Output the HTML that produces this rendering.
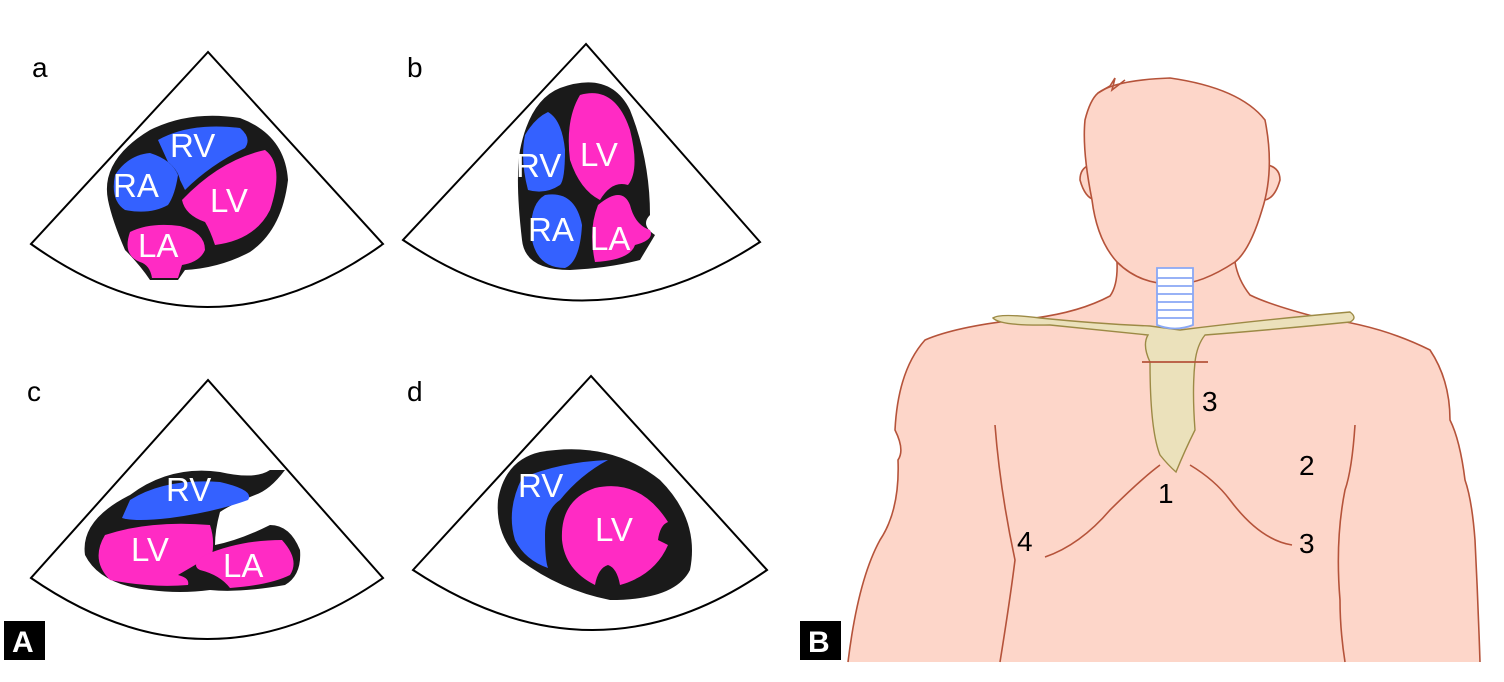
<!DOCTYPE html>
<html><head><meta charset="utf-8"><style>
html,body{margin:0;padding:0;background:#fff;}
svg{display:block;}
text{font-family:"Liberation Sans",Arial,sans-serif;}
</style></head><body>
<svg width="1504" height="682" viewBox="0 0 1504 682" xmlns="http://www.w3.org/2000/svg">
<rect width="1504" height="682" fill="#fff"/>
<g fill="none" stroke="#000" stroke-width="2">
<path d="M208,52 L31,244 Q208,370 383,244 Z"/>
<path d="M586,44 L403,240 Q580,360 760,242 Z"/>
<path d="M208,380 L31,578 Q208,700 383,578 Z"/>
<path d="M591,376 L413,570 Q595,690 767,570 Z"/>
</g>
<g font-size="28" fill="#000">
<text x="32" y="77">a</text><text x="407" y="77">b</text>
<text x="27" y="401">c</text><text x="407" y="401">d</text>
</g>
<!-- heart a -->
<path d="M150,130 Q190,110 240,118 Q285,135 288,180 Q282,230 250,252 Q220,268 185,270 L178,280 L150,280 Q140,265 125,250 Q112,220 108,200 Q100,160 150,130 Z" fill="#1a1a1a"/>
<path d="M158,140 Q190,122 240,128 Q252,138 245,148 Q210,165 185,190 L180,180 Q178,170 168,162 Z" fill="#3461ff"/>
<path d="M115,175 Q128,155 150,153 Q172,160 178,175 Q175,195 168,205 Q150,215 125,210 Q110,200 115,175 Z" fill="#3461ff"/>
<path d="M182,200 Q220,160 265,150 Q285,165 270,210 Q255,240 215,245 Q210,230 205,222 Q185,215 182,200 Z" fill="#ff2bc4"/>
<path d="M130,232 Q150,222 180,226 Q205,232 205,250 Q200,262 182,265 L178,278 L152,278 Q150,265 140,262 Q122,255 130,232 Z" fill="#ff2bc4"/>
<!-- heart b -->
<path d="M560,88 Q610,70 630,110 Q650,160 650,215 Q640,225 655,235 L640,260 Q610,268 570,270 Q525,270 522,240 Q515,180 520,150 Q530,100 560,88 Z" fill="#1a1a1a"/>
<path d="M548,112 Q562,120 565,150 Q565,180 560,185 Q545,195 528,190 Q520,160 525,135 Q535,118 548,112 Z" fill="#3461ff"/>
<path d="M580,95 Q615,85 630,130 Q640,170 628,185 Q612,180 600,200 Q580,190 570,160 Q565,120 580,95 Z" fill="#ff2bc4"/>
<path d="M545,195 Q575,190 582,225 Q580,262 565,268 Q538,268 532,240 Q528,205 545,195 Z" fill="#3461ff"/>
<path d="M598,205 Q622,185 630,205 Q635,225 650,230 Q655,240 635,245 Q630,260 595,262 Q588,230 598,205 Z" fill="#ff2bc4"/>
<!-- heart c -->
<path d="M130,495 Q170,465 220,472 Q255,480 270,470 L285,470 Q270,490 255,495 Q230,505 220,512 Q215,530 215,545 Q240,540 270,525 Q290,525 300,550 Q302,575 285,585 Q240,593 210,590 Q180,594 150,590 Q100,585 85,555 Q80,520 130,495 Z" fill="#1a1a1a"/>
<path d="M130,500 Q165,478 220,482 Q255,490 248,500 Q215,512 170,518 Q135,522 122,518 Z" fill="#3461ff"/>
<path d="M105,535 Q150,520 210,525 Q215,540 212,555 Q190,568 178,575 Q190,578 188,585 Q150,588 110,580 Q90,560 105,535 Z" fill="#ff2bc4"/>
<path d="M205,555 Q240,540 282,540 Q300,560 290,575 Q270,585 230,588 Q220,575 200,570 Q190,565 205,555 Z" fill="#ff2bc4"/>
<!-- heart d -->
<path d="M540,452 Q610,440 660,480 Q700,520 690,570 Q675,600 610,600 Q560,590 520,560 Q495,535 498,500 Q505,460 540,452 Z" fill="#1a1a1a"/>
<path d="M522,478 Q560,462 608,460 Q580,475 560,500 Q545,510 545,535 Q545,560 548,568 Q525,560 515,540 Q506,510 522,478 Z" fill="#3461ff"/>
<path d="M595,488 Q640,478 668,522 Q660,525 658,540 Q668,545 668,545 Q655,575 620,585 Q617,568 608,565 Q598,568 595,585 Q565,570 562,540 Q560,500 595,488 Z" fill="#ff2bc4"/>
<g font-size="33" fill="#fff">
<text x="170" y="157">RV</text><text x="113" y="197">RA</text><text x="210" y="212">LV</text><text x="138" y="257">LA</text>
<text x="516" y="177">RV</text><text x="580" y="166">LV</text><text x="528" y="241">RA</text><text x="590" y="250">LA</text>
<text x="166" y="501">RV</text><text x="131" y="561">LV</text><text x="223" y="577">LA</text>
<text x="518" y="497">RV</text><text x="595" y="541">LV</text>
</g>
<rect x="4" y="621" width="41" height="39" fill="#000"/>
<text x="12" y="652" font-size="30" font-weight="bold" fill="#fff">A</text>
<rect x="800" y="621" width="41" height="39" fill="#000"/>
<text x="808" y="652" font-size="30" font-weight="bold" fill="#fff">B</text>
<!-- body -->
<path d="M1117,262 Q1118,285 1110,296 Q1080,312 1035,318 Q960,325 925,340 Q898,370 895,430 Q905,450 898,460 Q900,510 880,540 Q858,580 848,662 L1480,662 Q1478,600 1475,540 Q1472,500 1465,480 Q1460,440 1450,420 Q1450,380 1430,350 Q1380,325 1320,318 Q1270,305 1250,295 Q1238,280 1235,262 Z" fill="#fdd6c9"/>
<path d="M848,662 Q858,580 880,540 Q900,510 898,460 Q905,450 895,430 Q898,370 925,340 Q960,325 1035,318 Q1080,312 1110,296 Q1118,285 1117,262 M1235,262 Q1238,280 1250,295 Q1270,305 1320,318 Q1380,325 1430,350 Q1450,380 1450,420 Q1460,440 1465,480 Q1472,500 1475,540 Q1478,600 1480,662" fill="none" stroke="#b5533a" stroke-width="1.6"/>
<g fill="#fdd6c9" stroke="#b5533a" stroke-width="1.6">
<path d="M1090,165 Q1080,168 1080,180 Q1085,198 1095,200 Z M1268,165 Q1280,168 1280,180 Q1275,198 1265,200 Z"/>
<path d="M1098,93 Q1115,80 1170,78 Q1240,88 1265,120 Q1275,170 1262,210 Q1250,250 1235,262 Q1200,285 1175,284 Q1140,285 1117,262 Q1097,240 1092,200 Q1082,150 1085,120 Q1090,100 1098,93 Z"/>
</g>
<path d="M1098,93 L1110,86 L1115,78 L1112,90 L1125,80" fill="none" stroke="#b5533a" stroke-width="1.6"/>
<g fill="none" stroke="#b5533a" stroke-width="1.6">
<path d="M995,425 Q1000,490 1015,560 Q1010,600 1000,662"/>
<path d="M1355,425 Q1352,470 1345,490 Q1335,540 1340,600 Q1340,630 1345,662"/>
<path d="M1160,465 Q1140,480 1110,510 Q1080,545 1045,557"/>
<path d="M1190,465 Q1215,480 1230,500 Q1260,540 1292,545"/>
</g>
<path d="M993,318 Q1000,313 1040,318 Q1100,324 1150,326 L1180,330 Q1260,320 1350,312 Q1358,318 1350,322 Q1270,330 1205,335 Q1197,345 1195,362 Q1192,390 1195,430 Q1185,450 1176,472 Q1168,465 1160,455 Q1150,430 1150,362 Q1142,345 1148,335 Q1100,330 1050,325 Q1000,326 993,318 Z" fill="#ebe1bb" stroke="#9c8a45" stroke-width="1.4"/>
<path d="M1142,362 L1208,362" stroke="#b5533a" stroke-width="1.8"/>
<g stroke="#89a8f5" stroke-width="1.8" fill="#fff">
<path d="M1157,268 L1193,268 L1193,325 Q1175,332 1157,325 Z"/>
<path d="M1157,278 H1193 M1157,286 H1193 M1157,294 H1193 M1157,302 H1193 M1157,310 H1193 M1157,318 H1193" fill="none"/>
</g>
<g font-size="28" fill="#000">
<text x="1202" y="411">3</text><text x="1299" y="475">2</text><text x="1158" y="503">1</text><text x="1017" y="551">4</text><text x="1299" y="553">3</text>
</g>
</svg>
</body></html>
